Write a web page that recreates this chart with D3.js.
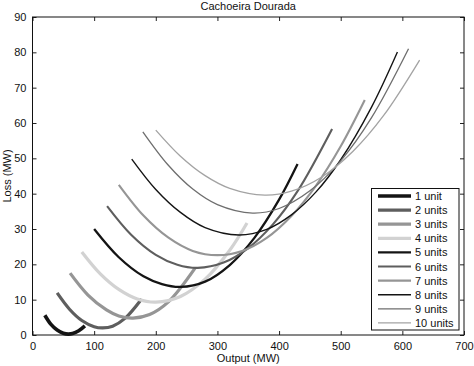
<!DOCTYPE html>
<html>
<head>
<meta charset="utf-8">
<script src="https://cdn.jsdelivr.net/npm/d3@7"></script>
<style>
  html, body { margin: 0; padding: 0; background: #fff; }
  svg { display: block; }
  text { font-family: "Liberation Sans", Arial, Helvetica, sans-serif; fill: #111; }
</style>
</head>
<body>
<svg id="chart" width="474" height="366"></svg>
<script>
// ---- data ----
const title = "Cachoeira Dourada";
const xLabel = "Output (MW)";
const yLabel = "Loss (MW)";
const xTicks = [0, 100, 200, 300, 400, 500, 600, 700];
const yTicks = [0, 10, 20, 30, 40, 50, 60, 70, 80, 90];
const unitLabels = ["1 unit", "2 units", "3 units", "4 units", "5 units",
                    "6 units", "7 units", "8 units", "9 units", "10 units"];

// [output MW, loss MW] points along each curve
const curve1 = [[20,5.6],[30,3.0],[40,1.4],[50,0.5],[58,0.25],[65,0.4],[75,1.2],[85,2.6]];
const curve2 = [[40,11.9],[60,7.3],[80,4.1],[100,2.35],[114,2.0],[130,2.5],[150,4.7],[177,10.2]];
const curve3 = [[61,17.5],[90,11.3],[120,7.1],[140,5.4],[163,4.8],[190,5.8],[220,9.3],[264,19.0]];
const curve4 = [[80,23.5],[110,17.3],[140,12.9],[170,10.2],[200,9.3],[240,10.9],[280,15.8],[320,24.0],[348,31.7]];
const curve5 = [[100,30.0],[140,22.0],[180,16.6],[210,14.4],[240,13.6],[280,15.1],[320,19.8],[360,27.5],[400,38.3],[430,48.4]];
const curve6 = [[121,36.5],[160,28.4],[200,22.7],[235,19.9],[268,19.0],[310,20.5],[350,24.6],[390,31.3],[430,40.7],[486,58.3]];
const curve7 = [[140,42.5],[180,33.8],[220,27.6],[260,23.8],[300,22.6],[340,23.8],[380,27.5],[420,33.7],[460,42.3],[500,53.4],[539,66.5]];
const curve8 = [[161,49.8],[200,41.2],[240,34.7],[280,30.4],[335,28.3],[380,29.9],[420,34.0],[460,40.5],[500,49.6],[550,64.5],[592,80.1]];
const curve9 = [[179,57.5],[220,48.1],[260,41.3],[300,36.9],[357,34.5],[400,35.8],[450,40.8],[500,49.3],[550,61.5],[610,81.0]];
const curve10 = [[200,58.0],[240,50.6],[280,45.1],[320,41.5],[377,39.6],[420,40.7],[470,44.8],[520,52.0],[570,62.2],[628,77.8]];

const curves = [curve1, curve2, curve3, curve4, curve5, curve6, curve7, curve8, curve9, curve10];

// ---- styles ----
const colors = ["#141414", "#5e5e5e", "#959595", "#d2d2d2", "#141414",
                "#5e5e5e", "#959595", "#141414", "#6e6e6e", "#a3a3a3"];
const widths = [3.6, 3.2, 3.2, 3.2, 2.3, 2.1, 2.1, 1.4, 1.3, 1.3];

// ---- layout ----
const svg = d3.select("#chart");
const pL = 32.5, pR = 464, pT = 17, pB = 335;

const x = d3.scaleLinear().domain([0, 700]).range([pL, pR]);
const y = d3.scaleLinear().domain([0, 90]).range([pB, pT]);

// axes (ticks inward, Matlab-like box)
const tickLen = 4;
svg.append("g").attr("transform", `translate(0,${pB})`)
  .call(d3.axisBottom(x).tickValues(xTicks).tickSizeInner(-tickLen).tickSizeOuter(0).tickPadding(7))
  .call(g => g.selectAll("text").attr("font-size", 11));
svg.append("g").attr("transform", `translate(0,${pT})`)
  .call(d3.axisTop(x).tickValues(xTicks).tickSizeInner(-tickLen).tickSizeOuter(0).tickFormat(""));
svg.append("g").attr("transform", `translate(${pL},0)`)
  .call(d3.axisLeft(y).tickValues(yTicks).tickSizeInner(-tickLen).tickSizeOuter(0).tickPadding(6))
  .call(g => g.selectAll("text").attr("font-size", 11));
svg.append("g").attr("transform", `translate(${pR},0)`)
  .call(d3.axisRight(y).tickValues(yTicks).tickSizeInner(-tickLen).tickSizeOuter(0).tickFormat(""));
svg.selectAll(".domain").remove();
svg.selectAll(".tick line").attr("stroke", "#222");

svg.append("rect")
  .attr("x", pL).attr("y", pT)
  .attr("width", pR - pL).attr("height", pB - pT)
  .attr("fill", "none").attr("stroke", "#111").attr("stroke-width", 1);

// curves
const line = d3.line()
  .x(d => x(d[0])).y(d => y(d[1]))
  .curve(d3.curveCatmullRom.alpha(0.5));

svg.append("g").selectAll("path")
  .data(curves)
  .join("path")
  .attr("d", d => line(d))
  .attr("fill", "none")
  .attr("stroke", (d, i) => colors[i])
  .attr("stroke-width", (d, i) => widths[i])
  .attr("stroke-linecap", "butt");

// title & labels
svg.append("text").attr("x", (pL + pR) / 2).attr("y", 10)
  .attr("text-anchor", "middle").attr("font-size", 11).text(title);
svg.append("text").attr("x", (pL + pR) / 2).attr("y", 362)
  .attr("text-anchor", "middle").attr("font-size", 11).text(xLabel);
svg.append("text")
  .attr("transform", `translate(11,${(pT + pB) / 2}) rotate(-90)`)
  .attr("text-anchor", "middle").attr("font-size", 11).text(yLabel);

// legend
const lg = svg.append("g");
const lx0 = 371.5, ly0 = 188.5, lw = 87.5, lh = 141.5;
lg.append("rect").attr("x", lx0).attr("y", ly0).attr("width", lw).attr("height", lh)
  .attr("fill", "#fff").attr("stroke", "#111").attr("stroke-width", 1);
const rowY = i => 196 + i * 14.1;
lg.selectAll("line").data(unitLabels).join("line")
  .attr("x1", 378).attr("x2", 411)
  .attr("y1", (d, i) => rowY(i)).attr("y2", (d, i) => rowY(i))
  .attr("stroke", (d, i) => colors[i])
  .attr("stroke-width", (d, i) => widths[i]);
lg.selectAll("text").data(unitLabels).join("text")
  .attr("x", 415).attr("y", (d, i) => rowY(i) + 4)
  .attr("font-size", 11).text(d => d);
</script>
</body>
</html>
